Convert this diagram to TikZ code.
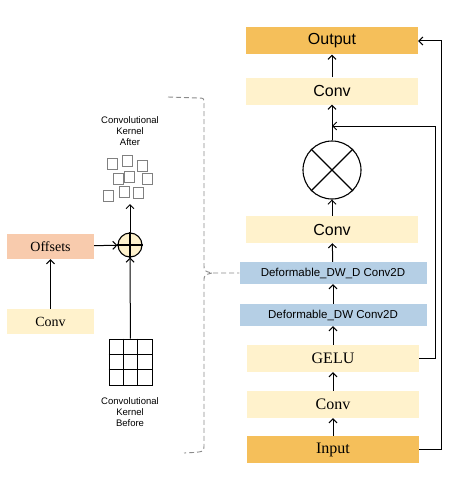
\documentclass[tikz,border=0pt]{standalone}
\usepackage{fontspec}
\setmainfont{Liberation Serif}
\setsansfont{Liberation Sans}
\usetikzlibrary{arrows.meta,calc}

\definecolor{ioorange}{HTML}{F5BF5A}
\definecolor{lightyel}{HTML}{FFF2CC}
\definecolor{dwblue}{HTML}{B5CFE5}
\definecolor{offsalmon}{HTML}{F8CBAD}

\tikzset{
  blk/.style={minimum width=172pt, minimum height=27pt, inner sep=0pt},
  sanstxt/.style={font=\sffamily\fontsize{16}{19}\selectfont},
  seriftxt/.style={font=\fontsize{16}{19}\selectfont},
  dwbox/.style={fill=dwblue, minimum width=187pt, minimum height=22pt, inner sep=0pt, font=\sffamily\fontsize{11.5}{14}\selectfont},
  leftbox/.style={minimum width=87pt, minimum height=25pt, inner sep=0pt, font=\fontsize{14}{17}\selectfont},
  arr/.style={-{Straight Barb[length=4pt,width=8pt]}, line width=1pt},
  kerntxt/.style={align=center, font=\sffamily\fontsize{9.5}{11}\selectfont},
  brace/.style={draw=black!45, line width=0.9pt, dash pattern=on 5pt off 3pt},
}

\begin{document}
\begin{tikzpicture}[x=1pt, y=-1pt]
	\useasboundingbox (0,0) rectangle (474,495);
	% main branch
	\node[blk, sanstxt, fill=ioorange] (output) at (332,41) {Output};
	\node[blk, sanstxt, fill=lightyel] (conv3) at (332,91) {Conv};
	\node[draw, circle, fill=white, line width=1.1pt, minimum size=58pt, inner sep=0pt] (mult) at (332,170) {};
	\draw[line width=1.1pt] (mult.north west) -- (mult.south east) (mult.north east) -- (mult.south west);
	\node[blk, sanstxt, fill=lightyel] (conv2) at (332,229.5) {Conv};
	\node[dwbox] (dwd) at (333,273) {Deformable\_DW\_D Conv2D};
	\node[dwbox] (dw) at (333,315) {Deformable\_DW Conv2D};
	\node[blk, seriftxt, fill=lightyel] (gelu) at (333,358.5) {GELU};
	\node[blk, seriftxt, fill=lightyel] (conv1) at (333,404.5) {Conv};
	\node[blk, seriftxt, fill=ioorange] (input) at (333,449.5) {Input};
	\coordinate (join) at (332,126);

	\draw[arr] (input) -- (conv1);
	\draw[arr] (conv1) -- (gelu);
	\draw[arr] (gelu) -- (dw);
	\draw[arr] (dw) -- (dwd);
	\draw[arr] (dwd) -- (conv2);
	\draw[arr] (conv2) -- (mult);
	\draw[arr] (mult) -- (conv3);
	\draw[arr] (conv3) -- (output);
	\draw[arr] (gelu.east) -- ++(16,0) |- (join);
	\draw[arr] (input.east) -- ++(22,0) |- (output.east);

	% deformable kernel
	\node[leftbox, fill=offsalmon] (offsets) at (50.5,246.5) {Offsets};
	\node[leftbox, fill=lightyel] (convl) at (50.5,321.5) {Conv};
	\node[draw, circle, fill=lightyel, line width=1.1pt, minimum size=24pt, inner sep=0pt] (plus) at (130,245) {};
	\draw[line width=1.1pt] (plus.north) -- (plus.south) (plus.west) -- (plus.east);
	\node[draw, line width=1pt, minimum width=43pt, minimum height=46pt, inner sep=0pt] (kbefore) at (130.5,362) {};
	\foreach \i in {1,2} {
		\draw[line width=1pt] ($(kbefore.north west)!\i/3!(kbefore.north east)$) -- ($(kbefore.south west)!\i/3!(kbefore.south east)$);
		\draw[line width=1pt] ($(kbefore.north west)!\i/3!(kbefore.south west)$) -- ($(kbefore.north east)!\i/3!(kbefore.south east)$);
	}
	\node[kerntxt] (txtbefore) at (130,412) {Convolutional\\Kernel\\Before};
	\node[kerntxt] (txtafter) at (130,131) {Convolutional\\Kernel\\After};
	\foreach \px/\py in {107/158, 122/155, 137/160, 113/173, 124/171, 142/173, 103/190, 119/186, 133/187}
		\draw[black!50, line width=1pt] (\px,\py) rectangle ++(10.5,11);
	\coordinate (kafter) at (130,204);

	\draw[arr] (convl) -- (offsets);
	\draw[arr] (offsets) -- (plus);
	\draw[arr] (kbefore) -- (plus);
	\draw[arr] (plus) -- (kafter);

	% dashed brace
	\draw[brace] (168,97) -- (198,98) .. controls (204,98) .. (204,104) -- (204,265) .. controls (204,271) .. (212,273) -- (dwd.west);
	\draw[brace] (212,273) .. controls (204,275) .. (204,282) -- (204,446) .. controls (204,452) .. (184,453);
\end{tikzpicture}
\end{document}
